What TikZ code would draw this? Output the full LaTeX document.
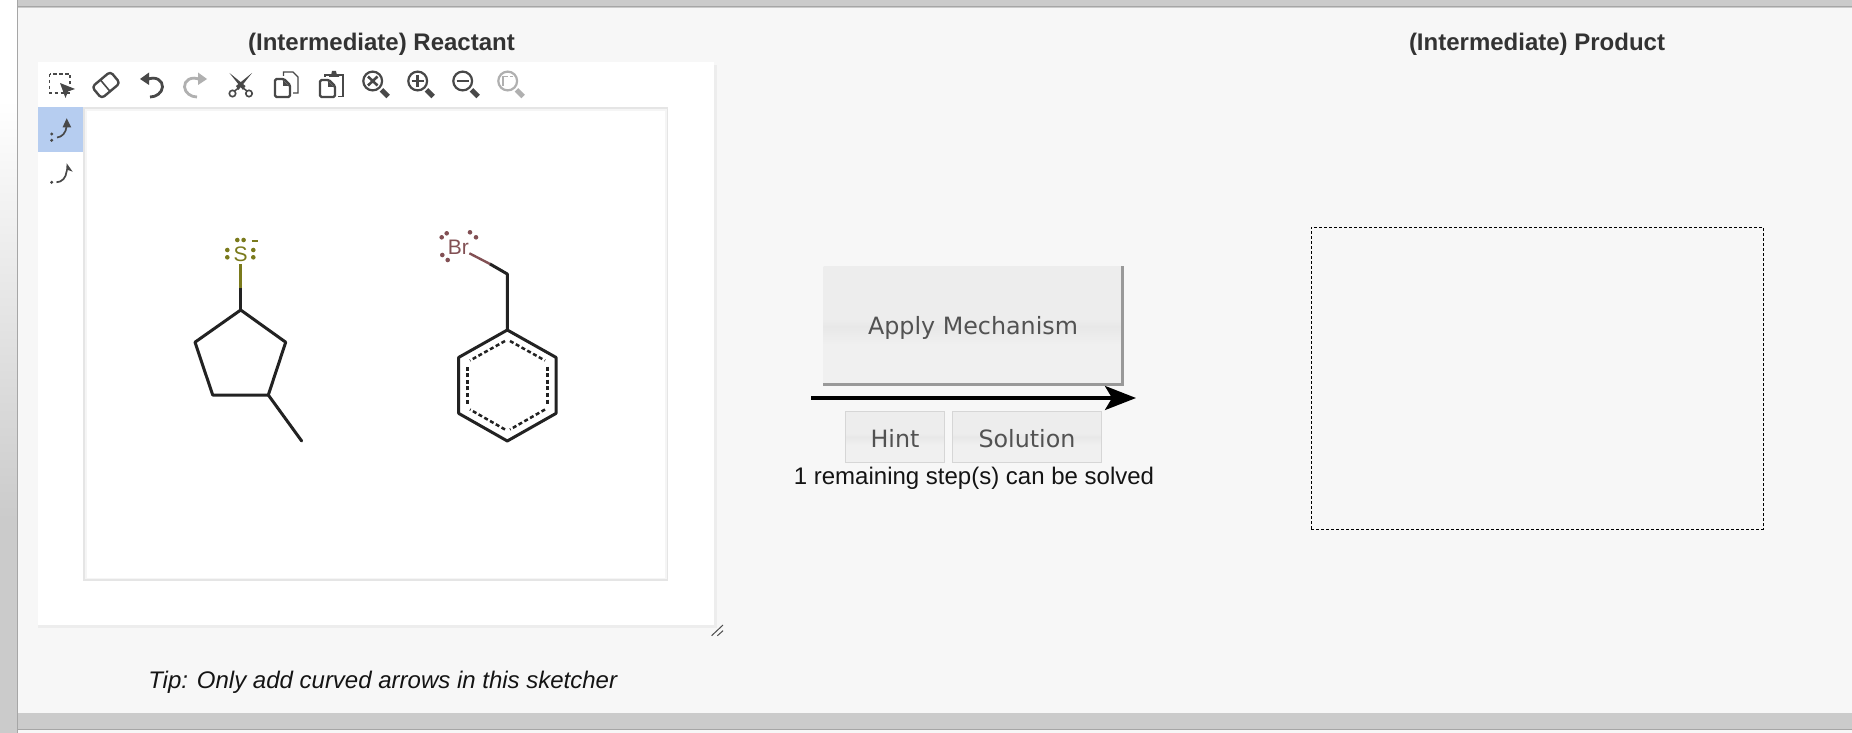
\documentclass[tikz,border=0pt]{standalone}
\usepackage{fontspec}
\setmainfont{Liberation Sans}
\newfontfamily\btnfont{DejaVu Sans}
\usetikzlibrary{arrows.meta, positioning, calc}
\definecolor{pagecolor}{RGB}{247, 247, 247}
\definecolor{bandcolor}{RGB}{203, 203, 203}
\definecolor{iconcolor}{RGB}{72, 72, 72}
\definecolor{icongray}{RGB}{176, 176, 176}
\definecolor{selcolor}{RGB}{182, 205, 240}
\definecolor{sulfurcolor}{RGB}{122, 122, 28}
\definecolor{brominecolor}{RGB}{130, 80, 84}
\definecolor{bondcolor}{RGB}{34, 34, 34}
\pgfdeclareverticalshading{btnshade}{100bp}{
  color(0bp)=(white!94!black); color(25bp)=(white!94!black);
  color(42bp)=(white!94!black); color(49.5bp)=(white!91!black); color(53bp)=(white!93!black);
  color(75bp)=(white!93!black); color(100bp)=(white!93!black)}
\tikzset{
  title/.style={font=\fontsize{24}{27}\selectfont\bfseries,text=black!80},
  btn/.style={shading=btnshade,inner sep=0pt,text=black!68,font=\btnfont\fontsize{23.8}{27}\selectfont},
  smallbtn/.style={btn,draw=black!16,line width=1pt,minimum height=51pt,text height=24pt,text depth=2pt},
  atom/.style={inner sep=0pt,font=\fontsize{21}{24}\selectfont},
  bond/.style={draw=bondcolor,line width=3pt,line cap=round,line join=round},
  dbond/.style={draw=bondcolor,line width=2.5pt,dash pattern=on 4pt off 2.6pt},
  icon/.style={draw=iconcolor,line width=2.4pt,line join=round},
  thinicon/.style={draw=iconcolor,line width=1.2pt},
}
% one magnifier: #1 centre, #2 colour
\newcommand{\lens}[2]{
  \draw[draw=#2,line width=2.2pt] (#1) circle (9.4);
  \draw[draw=#2,line width=5pt] ($(#1)+(8.8,8.8)$) -- ($(#1)+(15.5,15.5)$);
}
\begin{document}
\begin{tikzpicture}[x=1pt,y=-1pt]
\useasboundingbox (0,0) rectangle (1852,733);
% page
\fill[white] (0,0) rectangle (17,100);
\shade[top color=white,bottom color=bandcolor] (0,100) rectangle (17,520);
\fill[bandcolor] (0,520) rectangle (17,733);
\fill[bandcolor] (17,0) rectangle (1852,733);
\fill[pagecolor] (18,8) rectangle (1852,713);
\fill[pagecolor] (18,730) rectangle (1852,733);
\draw[black!35,line width=1pt] (17.5,0) -- (17.5,733);
\draw[black!35,line width=1pt] (18,7) -- (1852,7);
\draw[black!35,line width=1pt] (18,729.5) -- (1852,729.5);
\node[title] (reactant) at (381.5,44) {(Intermediate) Reactant};
\node[title] (product) at (1537,44) {(Intermediate) Product};
% sketcher
\fill[black!7] (38,65) rectangle (716.5,628);
\fill[white] (38,62) rectangle (713.5,625);
\fill[black!10] (83,107.5) rectangle (668,580.5);
\fill[black!4] (84.5,109) rectangle (666.5,579);
\fill[white] (86.5,111) rectangle (665,577.5);
\fill[black!6] (38,107) rectangle (83,110);
\fill[selcolor] (38,107) rectangle (83,152);
\draw[black!70,line width=1pt] (711.6,635.7) -- (723,625);
\draw[black!70,line width=1pt] (717.4,635.7) -- (723,630.7);
% toolbar
\draw[iconcolor,line width=1.8pt,dash pattern=on 3.5pt off 2.5pt] (49.5,74) rectangle (70,93);
\fill[iconcolor] (60,83) -- (75,89) -- (68,91.5) -- (65.5,98) -- cycle;
\begin{scope}[shift={(106,85)},rotate=40]
\draw[icon,rounded corners=3.5pt] (-12,-7.5) rectangle (12,7.5);
\draw[draw=iconcolor,line width=1.6pt] (-1,-7.5) -- (-1,7.5);
\end{scope}
\draw[icon,line width=2.8pt] (146,80) .. controls (156,75) and (163,81) .. (162.5,87) .. controls (162,93) and (156,97) .. (150,97);
\fill[iconcolor] (140,79) -- (149,72.5) -- (149,85) -- cycle;
\draw[draw=icongray,line width=2.8pt] (201,80) .. controls (191,75) and (184,81) .. (184.5,87) .. controls (185,93) and (191,97) .. (197,97);
\fill[icongray] (207,79) -- (198,72.5) -- (198,85) -- cycle;
\fill[iconcolor] (229.5,73) -- (245.5,86) -- (243,90) -- cycle;
\fill[iconcolor] (252,73) -- (236,86) -- (238.5,90) -- cycle;
\draw[draw=iconcolor,line width=1.5pt] (243,88) -- (247,91);
\draw[draw=iconcolor,line width=1.5pt] (238.5,88) -- (234.5,91);
\draw[draw=iconcolor,line width=1.6pt] (232.5,93.5) circle (3.2);
\draw[draw=iconcolor,line width=1.6pt] (249,93.5) circle (3.2);
\draw[thinicon] (283.5,76) -- (283.5,72) -- (293,72) -- (298,77) -- (298,93) -- (293,93);
\draw[icon,rounded corners=1.5pt] (275,79) -- (284,79) -- (290,85) -- (290,97) -- (275,97) -- cycle;
\fill[iconcolor] (283,80) -- (289,86) -- (283,86) -- cycle;
\draw[thinicon] (325,77) -- (325,75) -- (343,75) -- (343,96.5) -- (338,96.5);
\fill[iconcolor] (329,75.5) -- (331,75.5) -- (332,71) -- (336,71) -- (337,75.5) -- (339,75.5) -- (339,77) -- (329,77) -- cycle;
\draw[icon,rounded corners=1.5pt] (320,80) -- (329,80) -- (335,86) -- (335,97) -- (320,97) -- cycle;
\fill[iconcolor] (328,81) -- (334,87) -- (328,87) -- cycle;
\lens{372.7,81}{iconcolor}
\draw[draw=iconcolor,line width=2.6pt] (368,76.5) -- (377.5,85.5);
\draw[draw=iconcolor,line width=2.6pt] (377.5,76.5) -- (368,85.5);
\lens{417.7,81}{iconcolor}
\draw[draw=iconcolor,line width=2.6pt] (411.5,81) -- (424,81);
\draw[draw=iconcolor,line width=2.6pt] (417.7,75) -- (417.7,87);
\lens{462.7,81}{iconcolor}
\draw[draw=iconcolor,line width=2.6pt] (456.5,81) -- (469,81);
\lens{507.7,81}{icongray}
\draw[draw=icongray,line width=1.4pt] (503,86) -- (503,76.5) -- (508,76.5);
\draw[draw=icongray,line width=1.4pt] (510,76.5) -- (513,76.5);
% arrow tools
\fill[iconcolor] (51.7,134) circle (1.7);
\fill[iconcolor] (51.7,140.3) circle (1.7);
\draw[draw=iconcolor,line width=1.7pt] (57,137.5) .. controls (62,137) and (66,133) .. (66.7,126);
\fill[iconcolor] (66.7,118.3) -- (71.3,127.5) -- (62.5,127.5) -- cycle;
\fill[iconcolor] (51.7,182.3) circle (1.7);
\draw[draw=iconcolor,line width=1.7pt] (56.5,182.3) .. controls (62,182) and (66,178) .. (66.7,171);
\fill[iconcolor] (66.7,163.3) -- (72.7,171.7) -- (68,170) -- (66,172.7) -- cycle;
% thiol ring
\coordinate (r1) at (240.7,310);
\coordinate (r2) at (285.7,342.2);
\coordinate (r3) at (268.3,395);
\coordinate (r4) at (212.7,395);
\coordinate (r5) at (195,342.2);
\coordinate (me) at (301.7,441);
\coordinate (sb) at (240.7,288);
\node[atom,text=sulfurcolor] (S) at (240.7,254.3) {S};
\draw[bond] (r1) -- (r2) -- (r3) -- (r4) -- (r5) -- cycle;
\draw[bond] (r3) -- (me);
\draw[bond,line cap=butt] (r1) -- (sb);
\draw[draw=sulfurcolor,line width=2.6pt] (sb) -- ($(S.south)+(0,2)$);
\foreach \px/\py in {237.3/240,243.6/240,227.3/250,227.3/257.3,253.3/250,253.3/257.3}
  \fill[sulfurcolor] (\px,\py) circle (2.3);
\draw[draw=sulfurcolor,line width=1.6pt] (251.7,241) -- (258.3,241);
% benzyl bromide
\coordinate (ch) at (507.3,274);
\coordinate (bb) at (490,264);
\coordinate (b1) at (507.3,330);
\coordinate (b2) at (556,357.4);
\coordinate (b3) at (556,413.4);
\coordinate (b4) at (507.3,441);
\coordinate (b5) at (458.7,413.4);
\coordinate (b6) at (458.7,357.4);
\node[atom,text=brominecolor] (Br) at (458.3,247.3) {Br};
\draw[bond] (b1) -- (b2) -- (b3) -- (b4) -- (b5) -- (b6) -- cycle;
\draw[bond] (bb) -- (ch) -- (b1);
\draw[draw=brominecolor,line width=2.4pt] (bb) -- ($(Br.east)+(0.4,6)$);
\draw[dbond] (505,341) -- (470,360.5);
\draw[dbond] (510,341) -- (545,360.5);
\draw[dbond] (547.5,366.5) -- (547.5,403.5);
\draw[dbond] (545,409.5) -- (510,429.5);
\draw[dbond] (505,429.5) -- (470,409.5);
\draw[dbond] (467.5,403.5) -- (467.5,366.5);
\foreach \px/\py in {446.7/233.3,441.7/237.3,470/232.3,476/237.3,442.3/255,447.7/260}
  \fill[brominecolor] (\px,\py) circle (2.3);
% middle column
\node[btn,minimum width=299pt,minimum height=118pt,text height=20pt,text depth=3pt] (apply) at (973,325.5) {Apply Mechanism};
\draw[draw=black!40,line width=3pt] (apply.north east) -- (apply.south east) -- (apply.south west);
\coordinate (arrowstart) at (811,398);
\coordinate (arrowend) at (1136,398);
\draw[line width=3.4pt,-{Stealth[length=31pt,width=24pt,inset=7pt]}] (arrowstart) -- (arrowend);
\node[smallbtn,minimum width=99pt] (hint) at (895,436.5) {Hint};
\node[smallbtn,minimum width=149pt,right=7pt of hint] (solution) {Solution};
\node[font=\fontsize{24}{27}\selectfont,text=black!92] (remaining) at (974,478.5) {1 remaining step(s) can be solved};
% product box
\node[draw=black,line width=1pt,dash pattern=on 3pt off 2pt,minimum width=452pt,minimum height=302pt,inner sep=0pt] (productbox) at (1537.2,378) {};
\node[font=\fontsize{24}{27}\selectfont\itshape,text=black!92] (tip) at (382.7,682) {Tip: Only add curved arrows in this sketcher};
\end{tikzpicture}
\end{document}
